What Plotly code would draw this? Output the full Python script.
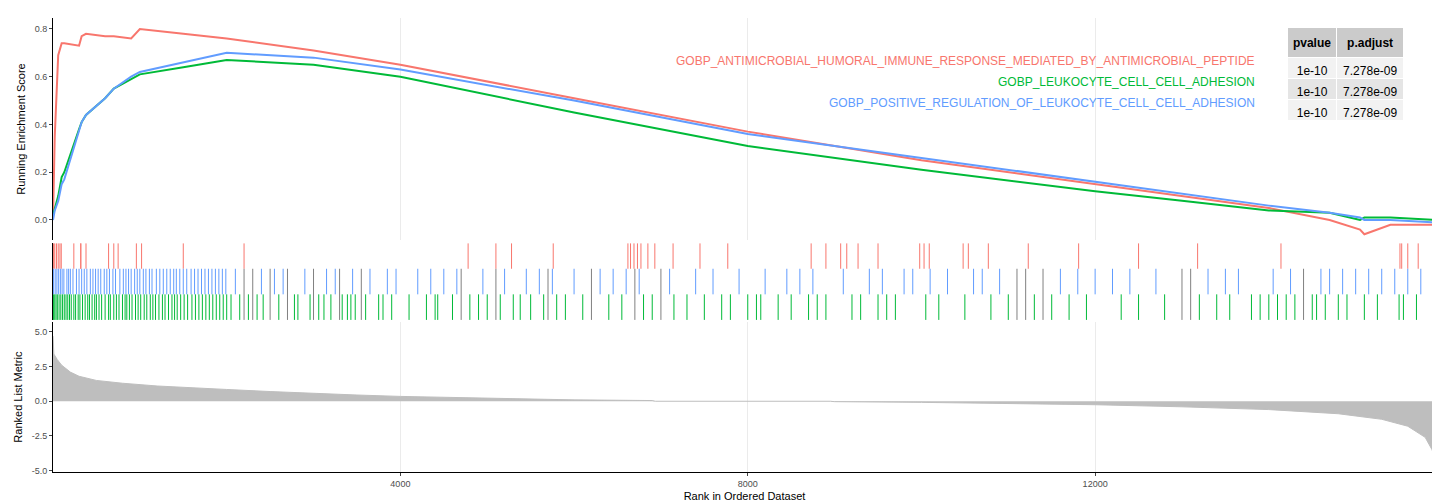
import plotly.graph_objects as go

N = 15925
set_names = ["GOBP_ANTIMICROBIAL_HUMORAL_IMMUNE_RESPONSE_MEDIATED_BY_ANTIMICROBIAL_PEPTIDE",
             "GOBP_LEUKOCYTE_CELL_CELL_ADHESION",
             "GOBP_POSITIVE_REGULATION_OF_LEUKOCYTE_CELL_CELL_ADHESION"]
colors = ["#F8766D", "#00BA38", "#619CFF"]
pvalues = ["1e-10", "1e-10", "1e-10"]
padjust = ["7.278e-09", "7.278e-09", "7.278e-09"]

es_rank = [0, 20, 60, 100, 130, 300, 330, 380, 600, 700, 900, 1000, 1500, 2000, 3000, 4000, 6000, 8000, 10000, 12000, 13000, 14000, 14700, 15050, 15100, 15400, 15925]
es_red = [0.0, 0.35, 0.69, 0.74, 0.74, 0.73, 0.77, 0.78, 0.77, 0.77, 0.76, 0.80, 0.78, 0.76, 0.71, 0.65, 0.51, 0.37, 0.25, 0.15, 0.10, 0.05, 0.0, -0.04, -0.06, -0.02, -0.02]
es_green = [0.02, 0.05, 0.10, 0.18, 0.20, 0.38, 0.41, 0.44, 0.51, 0.55, 0.59, 0.61, 0.64, 0.67, 0.65, 0.60, 0.45, 0.31, 0.21, 0.12, 0.08, 0.04, 0.03, 0.0, 0.01, 0.01, 0.0]
es_blue = [0.0, 0.04, 0.08, 0.15, 0.17, 0.37, 0.41, 0.44, 0.51, 0.55, 0.60, 0.62, 0.66, 0.70, 0.68, 0.63, 0.50, 0.36, 0.26, 0.16, 0.11, 0.06, 0.03, 0.01, 0.0, 0.0, -0.01]

red_hits = [5, 20, 40, 60, 80, 95, 240, 320, 320, 380, 640, 700, 750, 960, 1020, 1500, 2200, 4780, 5100, 5280, 5760, 6620, 6650, 6690, 6730, 6770, 6850, 6930, 7140, 7450, 7770, 8730, 8900, 9070, 9140, 9270, 9500, 9980, 10030, 10090, 10480, 10540, 10770, 11230, 11810, 12500, 13180, 14140, 15510, 15530, 15600, 15720]
green_hits = [5, 20, 35, 50, 70, 90, 110, 130, 150, 170, 190, 210, 240, 260, 290, 310, 340, 370, 400, 420, 450, 480, 500, 530, 560, 600, 640, 660, 700, 730, 760, 800, 830, 850, 880, 910, 950, 980, 1010, 1050, 1080, 1120, 1150, 1180, 1220, 1260, 1290, 1330, 1370, 1400, 1430, 1470, 1510, 1550, 1600, 1640, 1680, 1720, 1760, 1800, 1840, 1880, 1920, 1960, 2000, 2050, 2150, 2250, 2350, 2420, 2600, 2780, 2820, 2960, 3060, 3120, 3200, 3330, 3390, 3430, 3480, 3600, 3750, 3800, 3900, 4100, 4300, 4400, 4430, 4600, 4800, 4900, 5000, 5150, 5300, 5380, 5500, 5650, 5800, 5900, 6100, 6400, 6550, 6800, 6900, 7150, 7300, 7500, 7700, 7800, 8000, 8100, 8150, 8350, 8500, 8700, 8800, 8900, 9200, 9300, 9500, 9600, 9700, 10050, 10200, 10500, 10800, 11000, 11300, 11500, 11700, 11900, 12300, 12500, 12800, 13200, 13400, 13550, 13800, 13900, 14000, 14100, 14200, 14300, 14500, 14550, 14650, 14800, 14900, 15100, 15250, 15500, 15550, 15700, 15900]
blue_hits = [5, 25, 45, 65, 85, 105, 125, 160, 180, 200, 230, 270, 300, 330, 360, 390, 430, 460, 490, 520, 550, 590, 620, 650, 690, 720, 770, 810, 840, 870, 900, 940, 970, 1000, 1040, 1070, 1110, 1140, 1190, 1230, 1270, 1310, 1350, 1390, 1420, 1460, 1500, 1540, 1590, 1630, 1670, 1710, 1750, 1790, 1830, 1870, 1910, 1950, 1990, 2100, 2400, 2550, 2650, 2900, 3150, 3250, 3450, 3650, 3850, 3950, 4200, 4350, 4500, 4650, 4950, 5200, 5450, 5600, 5750, 6000, 6300, 6450, 6600, 6750, 7100, 7400, 7600, 7900, 8200, 8450, 8600, 8750, 9100, 9400, 9550, 9800, 9900, 10100, 10300, 10600, 10700, 10900, 11600, 11800, 12000, 12200, 12400, 12700, 13300, 13500, 13650, 14050, 14250, 14600, 14700, 14850, 15000, 15150, 15300, 15450, 15600, 15750, 15900]
gray_hits = [2200, 2300, 2500, 2700, 3000, 3300, 3550, 4700, 5100, 5700, 6200, 6700, 7000, 11100, 11200, 11400, 13000, 13100, 14400]

metric_rank = [0, 10, 50, 100, 200, 300, 500, 800, 1200, 1600, 2000, 2500, 3000, 3500, 4000, 4500, 5000, 5500, 6000, 6900, 6935, 8950, 9000, 10000, 11000, 12000, 13000, 14000, 14800, 15300, 15600, 15800, 15880, 15925]
metric_val = [4.7, 3.4, 3.0, 2.6, 2.1, 1.8, 1.5, 1.3, 1.1, 0.95, 0.85, 0.7, 0.55, 0.45, 0.35, 0.28, 0.2, 0.15, 0.1, 0.05, 0.0, 0.0, -0.03, -0.08, -0.15, -0.25, -0.4, -0.6, -0.9, -1.3, -1.8, -2.6, -3.5, -4.6]

fig = go.Figure()
for vals, c in [(es_red, colors[0]), (es_green, colors[1]), (es_blue, colors[2])]:
    fig.add_trace(go.Scatter(x=es_rank, y=vals, mode="lines", line=dict(color=c, width=2),
                             xaxis="x", yaxis="y", showlegend=False, hoverinfo="skip"))

def rug(hits, y0, y1, c):
    xs, ys = [], []
    for h in hits:
        xs += [h, h, None]
        ys += [y0, y1, None]
    fig.add_trace(go.Scatter(x=xs, y=ys, mode="lines", line=dict(color=c, width=1),
                             xaxis="x2", yaxis="y2", showlegend=False, hoverinfo="skip"))

rug(red_hits, 2, 3, colors[0])
rug(blue_hits, 1, 2, colors[2])
rug(green_hits, 0, 1, colors[1])
rug(gray_hits, 0, 2, "#808080")

fig.add_trace(go.Scatter(x=metric_rank, y=metric_val, mode="lines", fill="tozeroy",
                         line=dict(color="#BEBEBE", width=1), fillcolor="#BEBEBE",
                         xaxis="x3", yaxis="y3", showlegend=False, hoverinfo="skip"))

fig.add_trace(go.Table(
    domain=dict(x=[0.8925, 0.977], y=[0.70, 0.978]),
    columnwidth=[50, 67],
    header=dict(values=["<b>pvalue</b>", "<b>p.adjust</b>"], fill_color="#CBCBCB",
                line_color="white", align="center", height=21,
                font=dict(size=12, color="black", family="Liberation Sans")),
    cells=dict(values=[pvalues, padjust], fill_color=[["#F2F2F2", "#E5E5E5", "#F2F2F2"]] * 2,
               line_color="white", align="center", height=21,
               font=dict(size=12, color="black", family="Liberation Sans"))))

for i, (n, c) in enumerate(zip(set_names, colors)):
    fig.add_annotation(text=n, x=0.8705, xref="paper", xanchor="right", yanchor="middle",
                       y=1 - ([53, 74, 95][i] - 10) / 454,
                       yref="paper", showarrow=False, font=dict(color=c, size=12))

tickf = dict(size=9, color="#4D4D4D")
common_x = dict(range=[0, N], tickvals=[4000, 8000, 12000], ticktext=["4000", "8000", "12000"],
                showgrid=True, gridcolor="#EBEBEB", zeroline=False, automargin=False)
fig.update_layout(
    width=1440, height=504, margin=dict(l=45, r=12, t=10, b=40, autoexpand=False),
    paper_bgcolor="white", plot_bgcolor="white",
    font=dict(family="Liberation Sans", size=11, color="black"),
    xaxis=dict(**common_x, anchor="y", showticklabels=False, ticks=""),
    yaxis=dict(domain=[0.511, 1], range=[-0.084, 0.846], tickvals=[0, 0.2, 0.4, 0.6, 0.8],
               ticktext=["0.0", "0.2", "0.4", "0.6", "0.8"], showgrid=False, zeroline=False,
               showline=True, linecolor="black", ticks="outside", ticklen=3, tickfont=tickf,
               automargin=False,
               title=dict(text="Running Enrichment Score", font=dict(size=11), standoff=6)),
    xaxis2=dict(range=[0, N], anchor="y2", showticklabels=False, showgrid=False, zeroline=False),
    yaxis2=dict(domain=[0.335, 0.504], range=[0, 3], showticklabels=False, showgrid=False,
                zeroline=False, showline=True, linecolor="black", automargin=False),
    xaxis3=dict(**common_x, anchor="y3", showline=True, linecolor="black", ticks="outside",
                ticklen=3, tickfont=tickf,
                title=dict(text="Rank in Ordered Dataset", font=dict(size=11), standoff=4)),
    yaxis3=dict(domain=[0, 0.330], range=[-5.1, 5.7], tickvals=[-5, -2.5, 0, 2.5, 5],
                ticktext=["-5.0", "-2.5", "0.0", "2.5", "5.0"], showgrid=False, zeroline=False,
                showline=True, linecolor="black", ticks="outside", ticklen=3, tickfont=tickf,
                automargin=False,
                title=dict(text="Ranked List Metric", font=dict(size=11), standoff=6)),
)
fig.write_html("out.html")
